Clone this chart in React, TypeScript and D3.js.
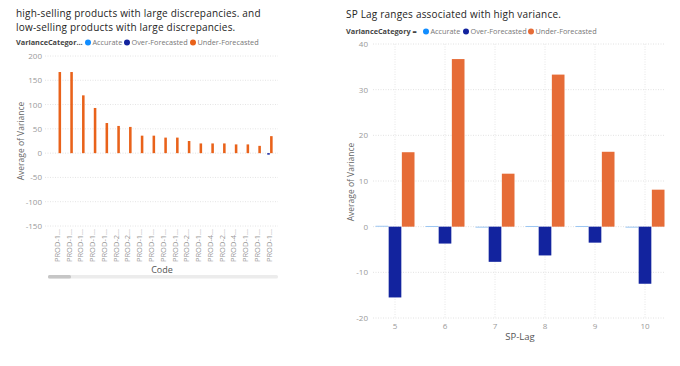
import React, { useRef, useEffect } from 'react'
import * as d3 from 'd3'

// left chart: Average of Variance by Code
const codeLabels = [
  'PROD-1', 'PROD-1', 'PROD-1', 'PROD-1', 'PROD-1', 'PROD-2', 'PROD-2', 'PROD-1', 'PROD-1', 'PROD-1',
  'PROD-1', 'PROD-2', 'PROD-1', 'PROD-4', 'PROD-2', 'PROD-4', 'PROD-1', 'PROD-1', 'PROD-1',
]
const codeAccurate: (number | null)[] = codeLabels.map(() => null)
const codeOver: (number | null)[] = [null, null, null, null, null, null, null, null, null, null, null, null, null, null, null, null, null, null, -3]
const codeUnder: (number | null)[] = [167, 167, 119, 93, 62, 56, 54, 36, 36, 32, 32, 25, 20, 20, 20, 18, 18, 15, 35]
const codeTicks = [200, 150, 100, 50, 0, -50, -100, -150]

// right chart: Average of Variance by SP-Lag
const lags = ['5', '6', '7', '8', '9', '10']
const lagAccurate = [0.2, 0.15, -0.1, 0.15, 0.15, -0.1]
const lagOver = [-15.5, -3.7, -7.7, -6.3, -3.5, -12.5]
const lagUnder = [16.3, 36.7, 11.6, 33.3, 16.4, 8.1]
const lagTicks = [40, 30, 20, 10, 0, -10, -20]

const seriesNames = ['Accurate', 'Over-Forecasted', 'Under-Forecasted']
const colors = ['#118DFF', '#12239E', '#E66C37']
const leftColors = ['#118DFF', '#12239E', '#E9621A']

const FONT = "'Segoe UI', 'Open Sans', sans-serif"

export default function App() {
  const svgRef = useRef<SVGSVGElement>(null)

  useEffect(() => {
    if (!svgRef.current) return
    const svg = d3.select(svgRef.current)
    svg.selectAll('*').remove()
    svg.attr('font-family', FONT)

    const legend = (x0: number, y: number, title: string, cols: string[], spots: number[]) => {
      const g = svg.append('g')
      g.append('text').attr('x', x0).attr('y', y).attr('font-size', 7.3).attr('font-weight', 700)
        .attr('fill', '#444').text(title)
      seriesNames.forEach((s, i) => {
        g.append('circle').attr('cx', spots[i]).attr('cy', y - 2.6).attr('r', 3).attr('fill', cols[i])
        g.append('text').attr('x', spots[i] + 4.5).attr('y', y).attr('font-size', 7.3)
          .attr('fill', '#777').text(s)
      })
    }

    // ---------- left chart ----------
    svg.append('text').attr('x', 16).attr('y', 16.5).attr('font-size', 10).attr('letter-spacing', 0.2)
      .attr('fill', '#252423').text('high-selling products with large discrepancies. and')
    svg.append('text').attr('x', 16).attr('y', 30.5).attr('font-size', 10).attr('letter-spacing', 0.2)
      .attr('fill', '#252423').text('low-selling products with large discrepancies.')
    legend(16, 45, 'VarianceCategor...', leftColors, [88, 127, 193])

    const yL = d3.scaleLinear().domain([-150, 200]).range([226, 56])
    const idx = codeLabels.map((_, i) => String(i))
    const xL = d3.scaleBand().domain(idx).range([51.1, 274.4]).paddingInner(0.3).paddingOuter(0.15)
    const xLs = d3.scaleBand().domain(seriesNames).range([0, xL.bandwidth()]).paddingInner(0.1)

    const gl = svg.append('g')
    gl.selectAll('line.grid').data(codeTicks).enter().append('line')
      .attr('x1', 45).attr('x2', 278).attr('y1', d => yL(d)).attr('y2', d => yL(d))
      .attr('stroke', '#e4e4e4').attr('stroke-dasharray', '1,1.5')
    gl.selectAll('text.tick').data(codeTicks).enter().append('text')
      .attr('x', 42).attr('y', d => yL(d) + 3).attr('text-anchor', 'end')
      .attr('font-size', 8).attr('fill', '#999').text(d => d)

    const leftSeries = [codeAccurate, codeOver, codeUnder]
    leftSeries.forEach((vals, s) => {
      vals.forEach((v, i) => {
        if (v == null) return
        const y0 = yL(0), y1 = yL(v)
        gl.append('rect')
          .attr('x', (xL(String(i)) || 0) + (xLs(seriesNames[s]) || 0))
          .attr('y', Math.min(y0, y1))
          .attr('width', xLs.bandwidth())
          .attr('height', Math.max(Math.abs(y1 - y0), 1.5))
          .attr('fill', leftColors[s])
      })
    })

    codeLabels.forEach((c, i) => {
      const cx = (xL(String(i)) || 0) + xL.bandwidth() / 2
      gl.append('text').attr('transform', `translate(${cx + 3},229) rotate(-90)`)
        .attr('text-anchor', 'end').attr('font-size', 7.5).attr('fill', '#999')
        .text(c + '...')
    })

    gl.append('text').attr('transform', 'translate(24,141) rotate(-90)').attr('text-anchor', 'middle')
      .attr('font-size', 8.5).attr('fill', '#666').text('Average of Variance')
    gl.append('text').attr('x', 162).attr('y', 273).attr('text-anchor', 'middle')
      .attr('font-size', 9).attr('fill', '#555').text('Code')

    // scrollbar
    gl.append('rect').attr('x', 48).attr('y', 275).attr('width', 230).attr('height', 3.5)
      .attr('rx', 1.5).attr('fill', '#ececec')
    gl.append('rect').attr('x', 48).attr('y', 275).attr('width', 23).attr('height', 3.5)
      .attr('rx', 1.5).attr('fill', '#c6c6c6')

    // ---------- right chart ----------
    svg.append('text').attr('x', 346).attr('y', 18).attr('font-size', 10).attr('letter-spacing', 0.2)
      .attr('fill', '#252423').text('SP Lag ranges associated with high variance.')
    legend(346, 34, 'VarianceCategory =', colors, [426, 466, 531])

    const yR = d3.scaleLinear().domain([-20, 40]).range([318, 44])
    const xR = d3.scaleBand().domain(lags).range([370, 670]).paddingInner(0.22).paddingOuter(0.11)
    const xRs = d3.scaleBand().domain(seriesNames).range([0, xR.bandwidth()]).paddingInner(0.04)

    const gr = svg.append('g')
    gr.selectAll('line.hgrid').data(lagTicks).enter().append('line')
      .attr('x1', 373).attr('x2', 664).attr('y1', d => yR(d)).attr('y2', d => yR(d))
      .attr('stroke', '#e2e2e2').attr('stroke-dasharray', '1,1.5')
    gr.selectAll('line.vgrid').data(lags).enter().append('line')
      .attr('x1', d => (xR(d) || 0) + xR.bandwidth() / 2).attr('x2', d => (xR(d) || 0) + xR.bandwidth() / 2)
      .attr('y1', 44).attr('y2', 318)
      .attr('stroke', '#e6e6e6').attr('stroke-dasharray', '1,1.5')
    gr.selectAll('text.ytick').data(lagTicks).enter().append('text')
      .attr('x', 368).attr('y', d => yR(d) + 3).attr('text-anchor', 'end')
      .attr('font-size', 8).attr('fill', '#999').text(d => d)
    gr.selectAll('text.xtick').data(lags).enter().append('text')
      .attr('x', d => (xR(d) || 0) + xR.bandwidth() / 2).attr('y', 329).attr('text-anchor', 'middle')
      .attr('font-size', 8).attr('fill', '#999').text(d => d)

    const rightSeries = [lagAccurate, lagOver, lagUnder]
    rightSeries.forEach((vals, s) => {
      vals.forEach((v, i) => {
        const y0 = yR(0), y1 = yR(v)
        gr.append('rect')
          .attr('x', (xR(lags[i]) || 0) + (xRs(seriesNames[s]) || 0))
          .attr('y', Math.min(y0, y1))
          .attr('width', xRs.bandwidth())
          .attr('height', Math.max(Math.abs(y1 - y0), 1))
          .attr('fill', s === 0 ? '#9cc7f2' : colors[s])
      })
    })

    gr.append('text').attr('transform', 'translate(354,182) rotate(-90)').attr('text-anchor', 'middle')
      .attr('font-size', 8.5).attr('fill', '#666').text('Average of Variance')
    gr.append('text').attr('x', 520).attr('y', 340).attr('text-anchor', 'middle')
      .attr('font-size', 9.5).attr('fill', '#555').text('SP-Lag')
  }, [])

  return (
    <div style={{ position: 'fixed', left: 0, top: 0, background: '#fff' }}>
      <svg ref={svgRef} width={680} height={366} style={{ display: 'block' }} />
    </div>
  )
}
